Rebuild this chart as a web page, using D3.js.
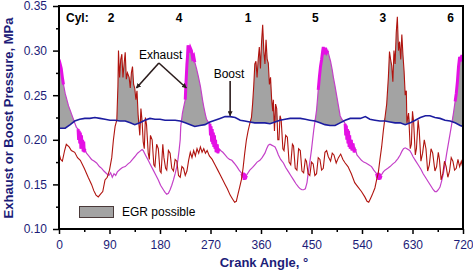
<!DOCTYPE html>
<html>
<head>
<meta charset="utf-8">
<script src="https://cdn.jsdelivr.net/npm/d3@7"></script>
<style>
  body { margin: 0; background: #fff; }
  svg text { font-family: Arial, "Liberation Sans", sans-serif; }
  .tick text { fill: #1c1c78; font-size: 12px; }
</style>
</head>
<body>
<div id="chart"></div>
<script>
// boost pressure [crank angle, MPa]
var boost = [[0,0.213],[11,0.213],[20,0.217],[28,0.221],[37,0.223],[46,0.224],[55,0.224],[64,0.225],[73,0.224],[82,0.223],[91,0.222],[100,0.222],[109,0.221],[118,0.221],[127,0.219],[135,0.217],[144,0.219],[153,0.222],[162,0.224],[171,0.223],[180,0.223],[189,0.222],[198,0.222],[207,0.222],[216,0.221],[225,0.219],[234,0.217],[242,0.215],[251,0.216],[260,0.217],[269,0.22],[278,0.222],[287,0.224],[296,0.226],[305,0.226],[314,0.225],[323,0.222],[331,0.221],[340,0.22],[349,0.219],[358,0.219],[367,0.219],[376,0.218],[385,0.22],[394,0.222],[403,0.223],[412,0.224],[421,0.224],[430,0.224],[439,0.223],[447,0.222],[456,0.221],[465,0.219],[474,0.217],[483,0.216],[492,0.216],[501,0.219],[510,0.222],[519,0.224],[528,0.224],[537,0.224],[546,0.226],[554,0.223],[563,0.222],[572,0.221],[581,0.221],[590,0.22],[599,0.219],[608,0.219],[617,0.217],[626,0.219],[635,0.222],[644,0.225],[653,0.227],[661,0.227],[670,0.225],[679,0.224],[688,0.222],[697,0.221],[706,0.219],[715,0.216],[720,0.215]];

// exhaust, cylinders 2-1-3 (red)
var exhaustA = [[0,0.185],[3,0.178],[6,0.176],[10,0.188],[13,0.195],[18,0.192],[22,0.188],[28,0.186],[33,0.18],[38,0.177],[45,0.168],[52,0.158],[58,0.15],[62,0.143],[66,0.138],[70,0.136],[74,0.139],[78,0.142],[82,0.155],[86,0.158],[90,0.166],[94,0.18],[97,0.2],[100,0.215],[103,0.222],
[105,0.26],[106,0.30],[108,0.27],[110,0.29],[112,0.296],[114,0.27],[116,0.285],[118,0.298],[120,0.268],[122,0.275],[125,0.27],[127,0.258],[129,0.275],[131,0.282],[133,0.262],[135,0.258],[137,0.245],[139,0.255],[141,0.228],[144,0.205],[146,0.235],[148,0.222],[150,0.198],[152,0.19],[154,0.225],[156,0.217],[159,0.185],[161,0.178],[163,0.205],[166,0.2],[169,0.172],[171,0.17],[174,0.195],[177,0.19],[180,0.165],[182,0.163],[185,0.195],[187,0.18],[190,0.168],[192,0.166],[195,0.188],[198,0.185],[201,0.168],[204,0.165],[207,0.178],[210,0.176],[213,0.16],[216,0.158],[219,0.17],[222,0.168],[225,0.16],[228,0.165],[231,0.177],[234,0.186],[237,0.18],[240,0.188],[243,0.182],[246,0.19],[249,0.185],[252,0.192],[255,0.186],[258,0.19],[261,0.185],[264,0.188],[268,0.182],[273,0.178],[278,0.172],[283,0.166],[287,0.161],[292,0.155],[296,0.15],[300,0.145],[305,0.138],[309,0.134],[313,0.13],[316,0.131],[319,0.139],[322,0.147],[325,0.155],[328,0.168],[331,0.185],[334,0.2],[337,0.21],[340,0.218],[343,0.225],
[345,0.24],[347,0.26],[349,0.285],[351,0.288],[353,0.27],[355,0.29],[357,0.304],[359,0.28],[361,0.31],[363,0.329],[365,0.3],[367,0.285],[369,0.312],[371,0.29],[373,0.286],[375,0.262],[377,0.27],[379,0.245],[381,0.232],[382,0.245],[384,0.21],[386,0.24],[388,0.235],[390,0.2],[392,0.2],[394,0.227],[396,0.222],[399,0.19],[401,0.188],[404,0.205],[407,0.203],[410,0.175],[413,0.172],[416,0.195],[418,0.193],[421,0.168],[424,0.166],[427,0.19],[430,0.188],[433,0.165],[436,0.163],[439,0.178],[441,0.176],[444,0.162],[447,0.16],[450,0.175],[453,0.173],[456,0.16],[459,0.162],[462,0.18],[465,0.178],[468,0.166],[471,0.168],[474,0.186],[477,0.188],[480,0.181],[484,0.176],[487,0.185],[490,0.183],[494,0.174],[498,0.18],[502,0.184],[506,0.178],[510,0.174],[515,0.17],[521,0.162],[527,0.152],[533,0.147],[539,0.142],[545,0.136],[549,0.131],[552,0.13],[555,0.134],[558,0.138],[563,0.146],[566,0.155],[569,0.163],[572,0.178],[575,0.192],[578,0.21],[581,0.225],[584,0.24],
[587,0.27],[589,0.299],[591,0.29],[593,0.283],[595,0.265],[597,0.3],[599,0.285],[601,0.32],[603,0.338],[605,0.3],[607,0.31],[609,0.29],[611,0.318],[613,0.295],[615,0.277],[617,0.25],[619,0.255],[620,0.219],[623,0.23],[626,0.19],[628,0.195],[630,0.232],[632,0.22],[635,0.183],[637,0.19],[640,0.222],[642,0.21],[645,0.176],[648,0.185],[651,0.2],[654,0.19],[657,0.165],[660,0.172],[663,0.19],[666,0.185],[670,0.165],[673,0.17],[676,0.186],[678,0.178],[681,0.155],[684,0.162],[687,0.176],[690,0.17],[693,0.158],[696,0.165],[699,0.18],[702,0.176],[705,0.166],[708,0.168],[711,0.178],[714,0.17],[717,0.176],[720,0.168]];

// exhaust, cylinders 4-5-6 (magenta)
var exhaustB = [[0,0.29],[2,0.285],[4,0.28],[6,0.27],[8,0.262],[11,0.252],[14,0.245],[17,0.238],[20,0.233],[24,0.226],[28,0.219],[31,0.214],[34,0.212],[35,0.2],[36,0.21],[37,0.196],[38,0.208],[39,0.19],[40,0.205],[41,0.192],[42,0.2],[43,0.187],[44,0.198],[45,0.186],[46,0.19],[49,0.185],[53,0.182],[58,0.178],[63,0.176],[67,0.174],[72,0.17],[76,0.168],[80,0.165],[85,0.162],[89,0.16],[92,0.163],[95,0.158],[98,0.162],[101,0.16],[104,0.164],[109,0.167],[113,0.169],[118,0.17],[123,0.173],[127,0.175],[131,0.178],[135,0.181],[140,0.185],[144,0.187],[148,0.189],[150,0.188],[154,0.183],[159,0.177],[163,0.172],[168,0.166],[172,0.161],[177,0.155],[181,0.149],[186,0.144],[189,0.141],[192,0.139],[195,0.14],[198,0.144],[201,0.149],[204,0.155],[207,0.162],[210,0.17],[212,0.178],[214,0.188],[216,0.2],[217,0.215],[219,0.225],[220,0.23],[222,0.236],[225,0.245],[226,0.26],[228,0.285],[229,0.293],[230,0.306],[232,0.298],[234,0.303],[236,0.3],[238,0.292],[240,0.294],[242,0.287],[245,0.28],[248,0.272],[250,0.266],[252,0.26],[254,0.252],[256,0.244],[258,0.237],[261,0.228],[263,0.223],[266,0.22],[269,0.218],[270,0.205],[271,0.215],[272,0.198],[273,0.212],[274,0.195],[275,0.208],[276,0.192],[277,0.205],[278,0.19],[279,0.2],[280,0.186],[282,0.195],[283,0.185],[285,0.19],[288,0.188],[292,0.186],[296,0.183],[300,0.18],[304,0.178],[308,0.177],[312,0.174],[317,0.17],[321,0.166],[326,0.162],[328,0.158],[329,0.163],[330,0.155],[331,0.162],[332,0.156],[334,0.16],[337,0.163],[340,0.166],[345,0.169],[349,0.172],[353,0.175],[358,0.177],[362,0.18],[367,0.185],[370,0.19],[373,0.194],[376,0.195],[379,0.194],[382,0.193],[385,0.192],[388,0.188],[391,0.183],[395,0.178],[400,0.174],[404,0.169],[409,0.164],[413,0.16],[418,0.155],[422,0.151],[427,0.147],[430,0.145],[433,0.144],[436,0.144],[439,0.145],[442,0.152],[444,0.162],[447,0.175],[450,0.189],[452,0.2],[454,0.211],[457,0.224],[459,0.233],[461,0.248],[462,0.256],[464,0.27],[466,0.282],[468,0.29],[470,0.3],[471,0.304],[473,0.296],[475,0.303],[477,0.298],[479,0.3],[481,0.295],[484,0.288],[487,0.278],[489,0.27],[492,0.26],[495,0.249],[498,0.238],[501,0.227],[504,0.223],[507,0.221],[510,0.218],[511,0.205],[512,0.216],[513,0.2],[514,0.212],[515,0.196],[516,0.21],[517,0.192],[518,0.205],[519,0.19],[521,0.2],[522,0.188],[524,0.196],[526,0.186],[528,0.19],[531,0.183],[535,0.18],[539,0.177],[543,0.175],[547,0.174],[552,0.172],[557,0.17],[561,0.166],[566,0.162],[568,0.157],[569,0.163],[570,0.155],[571,0.162],[572,0.156],[574,0.16],[578,0.164],[581,0.166],[586,0.168],[590,0.17],[595,0.173],[599,0.175],[604,0.179],[608,0.183],[611,0.187],[614,0.19],[617,0.191],[620,0.19],[625,0.188],[628,0.185],[631,0.181],[635,0.177],[640,0.172],[645,0.167],[649,0.162],[653,0.158],[658,0.153],[662,0.149],[667,0.144],[670,0.142],[673,0.142],[676,0.144],[679,0.147],[682,0.154],[685,0.162],[688,0.173],[691,0.185],[694,0.196],[697,0.207],[700,0.218],[703,0.23],[706,0.243],[708,0.252],[710,0.265],[712,0.282],[714,0.293],[716,0.288],[718,0.295],[720,0.29]];

// stretches where the magenta trace is noisy (drawn heavier)
var noisyB = [[0,10],[33,48],[224,242],[268,286],[326,336],[462,480],[509,530],[565,576],[704,720]];

var cylNames = ["2", "4", "1", "5", "3", "6"];
var cylAngles = [93, 214, 337, 457, 577, 698];

var xTicks = [0, 90, 180, 270, 360, 450, 540, 630, 720];
var yTicks = [0.10, 0.15, 0.20, 0.25, 0.30, 0.35];

var navy = "#1c1c78";
var margin = {top: 6, right: 10, bottom: 42, left: 59};
var width = 473 - margin.left - margin.right;
var height = 271 - margin.top - margin.bottom;

var svg = d3.select("#chart").append("svg")
	.attr("width", 473)
	.attr("height", 271);

var defs = svg.append("defs");
defs.append("marker")
	.attr("id", "arrow")
	.attr("viewBox", "0 0 10 10")
	.attr("refX", 9).attr("refY", 5)
	.attr("markerWidth", 5).attr("markerHeight", 5)
	.attr("markerUnits", "userSpaceOnUse")
	.attr("orient", "auto")
	.append("path")
	.attr("d", "M0,0 L10,5 L0,10 z")
	.attr("fill", "#2b1c1c");
defs.append("clipPath").attr("id", "plotclip")
	.append("rect").attr("width", width).attr("height", height);

var g = svg.append("g")
	.attr("transform", "translate(" + margin.left + "," + margin.top + ")");

var x = d3.scaleLinear().domain([0, 720]).range([0, width]);
var y = d3.scaleLinear().domain([0.10, 0.35]).range([height, 0]);

// boost value at any angle (linear between readings)
var bisect = d3.bisector(function(d) { return d[0]; }).left;
function boostAt(a) {
	var i = bisect(boost, a);
	if (i <= 0) return boost[0][1];
	if (i >= boost.length) return boost[boost.length - 1][1];
	var p = boost[i - 1], q = boost[i];
	return p[1] + (q[1] - p[1]) * (a - p[0]) / (q[0] - p[0]);
}

var plot = g.append("g").attr("clip-path", "url(#plotclip)");

// gray where exhaust is above boost
var egr = d3.area()
	.x(function(d) { return x(d[0]); })
	.y0(function(d) { return y(boostAt(d[0])); })
	.y1(function(d) { return y(Math.max(d[1], boostAt(d[0]))); });
[exhaustA, exhaustB].forEach(function(s) {
	plot.append("path").datum(s)
		.attr("d", egr)
		.attr("fill", "#a3a3a3");
});

var line = d3.line()
	.x(function(d) { return x(d[0]); })
	.y(function(d) { return y(d[1]); });

plot.append("path").datum(exhaustB)
	.attr("d", line)
	.attr("fill", "none")
	.attr("stroke", "#c440c8")
	.attr("stroke-width", 1.2);

var noisyLine = d3.line()
	.defined(function(d) {
		return noisyB.some(function(r) { return d[0] >= r[0] && d[0] <= r[1]; });
	})
	.x(function(d) { return x(d[0]); })
	.y(function(d) { return y(d[1]); });
plot.append("path").datum(exhaustB)
	.attr("d", noisyLine)
	.attr("fill", "none")
	.attr("stroke", "#e410e4")
	.attr("stroke-width", 3);

plot.append("path").datum(exhaustA)
	.attr("d", line)
	.attr("fill", "none")
	.attr("stroke", "#b0140f")
	.attr("stroke-width", 1.1);

plot.append("path").datum(boost)
	.attr("d", line)
	.attr("fill", "none")
	.attr("stroke", "#1c1ca0")
	.attr("stroke-width", 1.6);

// axes
var xAxis = g.append("g")
	.attr("transform", "translate(0," + height + ")")
	.call(d3.axisBottom(x).tickValues(xTicks).tickSize(5).tickPadding(6));
g.append("g")
	.attr("transform", "translate(0," + height + ")")
	.call(d3.axisBottom(x).tickValues(d3.range(45, 720, 90)).tickSize(3).tickFormat(""));
var yAxis = g.append("g")
	.call(d3.axisLeft(y).tickValues(yTicks).tickSize(6).tickPadding(6).tickFormat(d3.format(".2f")));
g.append("g")
	.call(d3.axisLeft(y).tickValues([0.125, 0.175, 0.225, 0.275, 0.325]).tickSize(3).tickFormat(""));
g.selectAll(".domain").remove();
g.selectAll(".tick line").attr("stroke", "#000").attr("stroke-width", 1.5);

g.append("rect")
	.attr("width", width).attr("height", height)
	.attr("fill", "none")
	.attr("stroke", "#000")
	.attr("stroke-width", 2);

// axis titles
svg.append("text")
	.attr("x", 264).attr("y", 267)
	.attr("text-anchor", "middle")
	.attr("font-size", "13px").attr("font-weight", "bold")
	.attr("fill", navy)
	.text("Crank Angle, \u00b0");
svg.append("text")
	.attr("transform", "translate(13,118) rotate(-90)")
	.attr("text-anchor", "middle")
	.attr("font-size", "13px").attr("font-weight", "bold")
	.attr("fill", navy)
	.text("Exhaust or Boost Pressure, MPa");

// cylinder firing labels
g.append("text")
	.attr("x", 7).attr("y", 16)
	.attr("font-size", "12px").attr("font-weight", "bold")
	.text("Cyl:");
g.selectAll(".cyl").data(cylNames).enter().append("text")
	.attr("class", "cyl")
	.attr("x", function(d, i) { return x(cylAngles[i]); })
	.attr("y", 16)
	.attr("text-anchor", "middle")
	.attr("font-size", "12px").attr("font-weight", "bold")
	.text(function(d) { return d; });

// annotations
g.append("text")
	.attr("x", x(181)).attr("y", 53)
	.attr("text-anchor", "middle")
	.attr("font-size", "12px")
	.text("Exhaust");
[[138, 82], [227, 82]].forEach(function(t) {
	g.append("line")
		.attr("x1", x(178)).attr("y1", 57)
		.attr("x2", x(t[0])).attr("y2", t[1])
		.attr("stroke", "#2b1c1c").attr("stroke-width", 1.6)
		.attr("marker-end", "url(#arrow)");
});
g.append("text")
	.attr("x", x(303)).attr("y", 72)
	.attr("text-anchor", "middle")
	.attr("font-size", "12px")
	.text("Boost");
g.append("line")
	.attr("x1", x(305)).attr("y1", 75)
	.attr("x2", x(305)).attr("y2", y(0.227))
	.attr("stroke", "#2b1c1c").attr("stroke-width", 1.6)
	.attr("marker-end", "url(#arrow)");

// legend
g.append("rect")
	.attr("x", 20.5).attr("y", 200.5)
	.attr("width", 34).attr("height", 11)
	.attr("fill", "#a3a3a3")
	.attr("stroke", "#4a3a3a").attr("stroke-width", 1);
g.append("text")
	.attr("x", 63).attr("y", 210)
	.attr("font-size", "12px")
	.text("EGR possible");
</script>
</body>
</html>
